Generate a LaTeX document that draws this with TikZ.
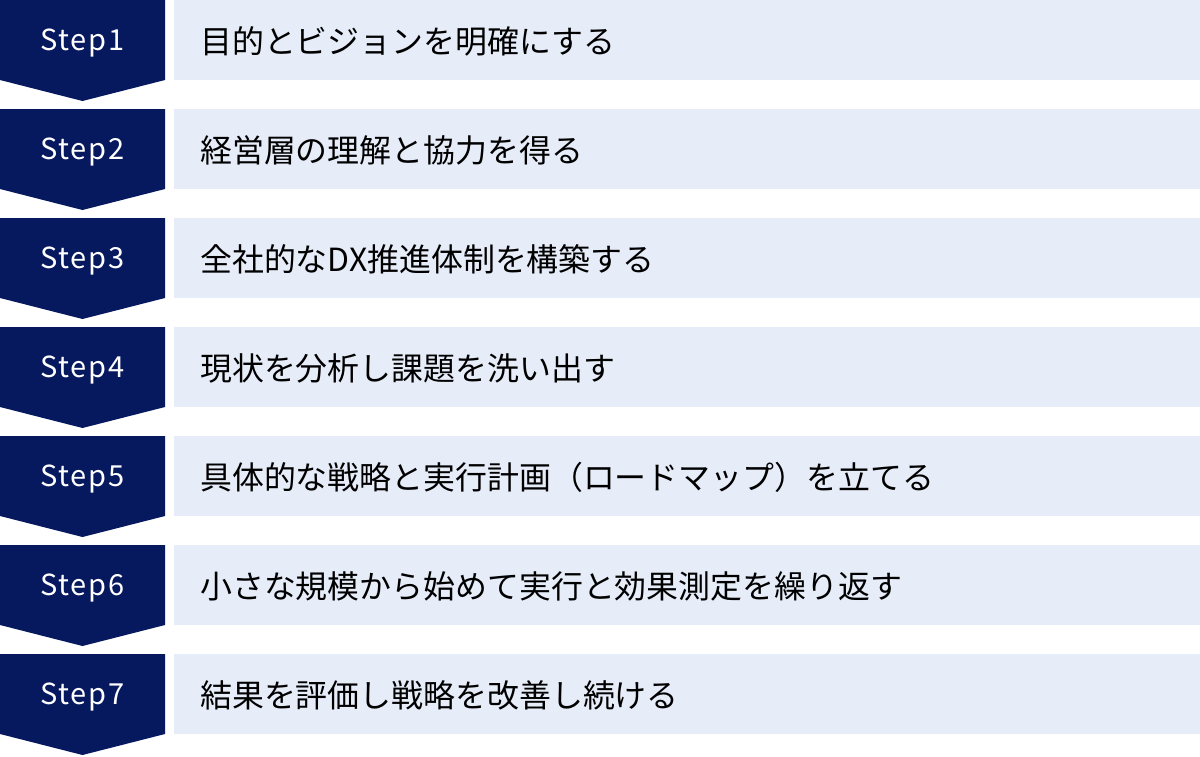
\documentclass[tikz,border=0pt]{standalone}
\usepackage{fontspec}
\setmainfont{Noto Sans}
\newfontfamily\jp{Noto Sans CJK JP}
\newfontfamily\jpsp[LetterSpace=6]{Noto Sans CJK JP}
\definecolor{navy}{RGB}{6,24,94}
\definecolor{barbg}{RGB}{230,236,248}
\tikzset{
  stepshape/.style={fill=navy, draw=none},
  steplabel/.style={text=white, font=\jpsp\fontsize{29}{34}\selectfont, inner sep=0pt},
  barbox/.style={fill=barbg, draw=none, anchor=north west, minimum width=1026pt, minimum height=80pt, inner sep=0pt},
  bartext/.style={anchor=west, inner sep=0pt, text=black, font=\jp\fontsize{31.9}{36}\selectfont},
}
\begin{document}
\begin{tikzpicture}[x=1pt,y=-1pt]
\useasboundingbox (0,0) rectangle (1200,756);
\foreach \i/\t in {1/目的とビジョンを明確にする,
                   2/経営層の理解と協力を得る,
                   3/全社的なDX推進体制を構築する,
                   4/現状を分析し課題を洗い出す,
                   5/具体的な戦略と実行計画（ロードマップ）を立てる,
                   6/小さな規模から始めて実行と効果測定を繰り返す,
                   7/結果を評価し戦略を改善し続ける}{
  \pgfmathsetmacro{\top}{(\i-1)*109}
  \fill[stepshape] (0,\top) -- (165,\top) -- (165,\top+80) -- (82.5,\top+101) -- (0,\top+80) -- cycle;
  \node[steplabel] (s\i) at (82.5,\top+43) {Step\i};
  \node[barbox] (b\i) at (174,\top) {};
  \node[bartext] (t\i) at (200,\top+41) {\t};
}
\end{tikzpicture}
\end{document}
